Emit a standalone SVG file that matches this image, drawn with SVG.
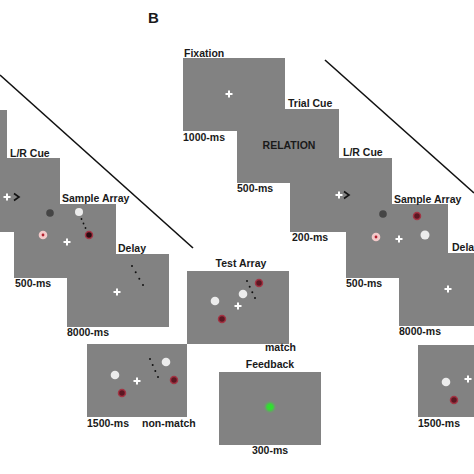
<svg xmlns="http://www.w3.org/2000/svg" width="474" height="474" viewBox="0 0 474 474">
<defs>
<style>
.p{fill:#828282}
.t{font-family:"Liberation Sans",Arial,sans-serif;font-weight:bold;font-size:10.5px;fill:#1a1a1a}
.c{stroke:#ffffff;stroke-width:2;fill:none}
.w{fill:#ececec}
.g{fill:#454545}
.r{fill:#5c1722;stroke:#a33444;stroke-width:1.5}
.pk{fill:#f3c9c9}
.pc{fill:#b3202f}
.d{fill:#111}
.ln{stroke:#111;stroke-width:1.6;fill:none}
.ar{stroke:#111;stroke-width:1.6;fill:none}
</style>
<radialGradient id="glow">
<stop offset="0" stop-color="#3cdc3c"/>
<stop offset="0.45" stop-color="#3cd23c"/>
<stop offset="1" stop-color="#828282" stop-opacity="0"/>
</radialGradient>
</defs>
<rect width="474" height="474" fill="#ffffff"/>
<g id="connectors">
<line class="ln" x1="0" y1="75" x2="193" y2="248"/>
<line class="ln" x1="325" y1="60" x2="474" y2="193"/>
</g>
<text class="t" x="148" y="23" style="font-size:15px">B</text>
<!-- Panel A (cropped) -->
<g id="a-trialcue"><rect class="p" x="-95" y="110" width="102" height="73"/></g>
<g id="a-lrcue">
<rect class="p" x="-42" y="158" width="102" height="74"/>
<text class="t" x="10" y="157">L/R Cue</text>
<path class="c" d="M3.5 197h7M7 193.5v7"/>
<path class="ar" d="M14 193.5l5 3.5-5 3.5"/>
</g>
<g id="a-sample">
<rect class="p" x="14" y="204" width="102" height="74"/>
<text class="t" x="62" y="202">Sample Array</text>
<text class="t" x="15" y="287">500-ms</text>
<circle class="g" cx="50" cy="213" r="3.8"/>
<circle class="w" cx="79" cy="212" r="4"/>
<circle class="d" cx="81.5" cy="219" r="0.9"/><circle class="d" cx="83.5" cy="223.5" r="0.9"/><circle class="d" cx="85.5" cy="228" r="0.9"/>
<circle class="r" cx="89" cy="235" r="3.5" style="fill:#2a0a10"/>
<circle class="pk" cx="43" cy="235" r="4.3"/><circle class="pc" cx="43" cy="235" r="1.4"/>
<path class="c" d="M63.5 242h7M67 238.5v7"/>
</g>
<g id="a-delay">
<rect class="p" x="67" y="254" width="102" height="73"/>
<text class="t" x="118" y="252">Delay</text>
<text class="t" x="67" y="336">8000-ms</text>
<path class="c" d="M113.5 292h7M117 288.5v7"/>
<circle class="d" cx="132" cy="266" r="1"/><circle class="d" cx="135.7" cy="272.3" r="1"/><circle class="d" cx="139.3" cy="278.7" r="1"/><circle class="d" cx="143" cy="285" r="1"/>
</g>
<g id="a-nonmatch">
<rect class="p" x="87" y="344" width="100" height="73"/>
<text class="t" x="87" y="427">1500-ms</text>
<text class="t" x="142" y="427">non-match</text>
<circle class="w" cx="115" cy="375" r="4.3"/>
<path class="c" d="M133.5 381h7M137 377.5v7"/>
<circle class="d" cx="150" cy="359" r="1"/><circle class="d" cx="152.7" cy="365" r="1"/><circle class="d" cx="155.3" cy="371" r="1"/><circle class="d" cx="158" cy="377" r="1"/>
<circle class="w" cx="166" cy="362" r="4.3"/>
<circle class="r" cx="174" cy="380" r="3.5"/>
<circle class="r" cx="122" cy="393" r="3.5"/>
</g>
<g id="a-test">
<rect class="p" x="187" y="271" width="102" height="73"/>
<text class="t" x="241" y="267" text-anchor="middle">Test Array</text>
<text class="t" x="265" y="351">match</text>
<circle class="d" cx="247" cy="281" r="1"/><circle class="d" cx="249.7" cy="286.7" r="1"/><circle class="d" cx="252.3" cy="292.3" r="1"/><circle class="d" cx="255" cy="298" r="1"/>
<circle class="r" cx="259" cy="283" r="3.5"/>
<circle class="w" cx="243" cy="294" r="4.3"/>
<circle class="w" cx="215" cy="301" r="4.3"/>
<path class="c" d="M234.5 306h7M238 302.5v7"/>
<circle class="r" cx="222" cy="319" r="3.5"/>
</g>
<g id="a-feedback">
<rect class="p" x="219" y="372" width="102" height="73"/>
<text class="t" x="270" y="368" text-anchor="middle">Feedback</text>
<text class="t" x="270" y="454" text-anchor="middle">300-ms</text>
<circle cx="270" cy="407" r="7" fill="url(#glow)"/>
<path d="M267 407h6M270 404v6" stroke="#2fe02f" stroke-width="2.2"/>
</g>
<!-- Panel B -->
<g id="b-fixation">
<rect class="p" x="183" y="58" width="102" height="73"/>
<text class="t" x="184" y="57">Fixation</text>
<text class="t" x="183" y="141">1000-ms</text>
<path class="c" d="M225.5 94h7M229 90.5v7"/>
</g>
<g id="b-trialcue">
<rect class="p" x="237" y="109" width="102" height="74"/>
<text class="t" x="288" y="107">Trial Cue</text>
<text class="t" x="289" y="149" text-anchor="middle">RELATION</text>
<text class="t" x="237" y="192">500-ms</text>
</g>
<g id="b-lrcue">
<rect class="p" x="290" y="158" width="102" height="74"/>
<text class="t" x="343" y="156">L/R Cue</text>
<text class="t" x="292" y="241">200-ms</text>
<path class="c" d="M335.5 195h7M339 191.5v7"/>
<path class="ar" d="M344 191.5l5 3.5-5 3.5"/>
</g>
<g id="b-sample">
<rect class="p" x="346" y="204" width="102" height="74"/>
<text class="t" x="394" y="203">Sample Array</text>
<text class="t" x="346" y="287">500-ms</text>
<circle class="g" cx="383" cy="214" r="3.8"/>
<circle class="r" cx="417" cy="216" r="3.5"/>
<circle class="pk" cx="376" cy="237" r="4.3"/><circle class="pc" cx="376" cy="237" r="1.4"/>
<path class="c" d="M395.5 239h7M399 235.5v7"/>
<circle class="w" cx="425" cy="235" r="4.5"/>
</g>
<g id="b-delay">
<rect class="p" x="399" y="253" width="102" height="73"/>
<text class="t" x="452" y="251">Delay</text>
<text class="t" x="399" y="335">8000-ms</text>
<path class="c" d="M444.5 289h7M448 285.5v7"/>
</g>
<g id="b-test">
<rect class="p" x="418" y="345" width="102" height="72"/>
<text class="t" x="418" y="427">1500-ms</text>
<circle class="w" cx="446" cy="382" r="4.3"/>
<path class="c" d="M464.5 379h7M468 375.5v7"/>
<circle class="r" cx="454" cy="400" r="3.5"/>
</g>
</svg>
